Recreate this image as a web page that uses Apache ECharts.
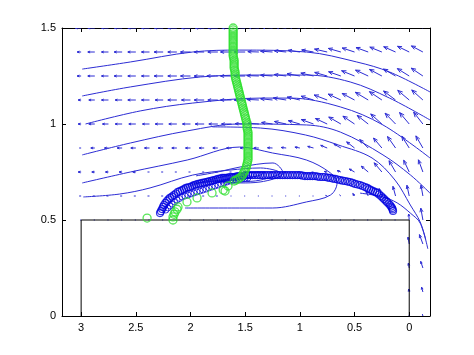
<!DOCTYPE html>
<html><head><meta charset="utf-8">
<script src="https://cdn.jsdelivr.net/npm/echarts@6/dist/echarts.min.js"></script>
<style>html,body{margin:0;padding:0;background:#fff}#c{width:474px;height:355px}</style>
</head><body><div id="c"></div>
<script>
// tick labels
const xTicks = [0, 0.5, 1, 1.5, 2, 2.5, 3];
const yTicks = [0, 0.5, 1, 1.5];

// quiver grid
const qx = [3.0,2.875,2.75,2.625,2.5,2.375,2.25,2.125,2.0,1.875,1.75,1.625,1.5,1.375,1.25,1.125,1.0,0.875,0.75,0.625,0.5,0.375,0.25,0.125,0.0,-0.125];
const qy = [1.5,1.375,1.25,1.125,1.0,0.875,0.75,0.625,0.5];
// speed (relative) per row
const qSpd = [
 [0.6,0.7,0.7,0.8,0.8,0.8,0.9,0.9,0.9,0.9,1.0,1.0,1.0,1.1,1.1,1.1,1.2,1.2,1.2,1.3,1.3,1.3,1.4,1.4,1.4,1.4],
 [0.4,0.7,0.7,0.8,0.8,0.8,0.9,0.9,1.0,1.0,1.0,1.1,1.1,1.1,1.2,1.2,1.2,1.2,1.3,1.3,1.3,1.3,1.3,1.3,1.3,1.3],
 [0.4,0.7,0.7,0.8,0.8,0.8,0.9,0.9,1.0,1.0,1.1,1.1,1.1,1.2,1.2,1.2,1.3,1.3,1.3,1.3,1.4,1.4,1.4,1.4,1.4,1.4],
 [0.3,0.6,0.7,0.7,0.8,0.8,0.8,0.9,0.9,1.0,1.0,1.1,1.1,1.2,1.2,1.3,1.3,1.3,1.4,1.4,1.4,1.5,1.5,1.5,1.5,1.5],
 [0.3,0.6,0.6,0.7,0.7,0.7,0.8,0.8,0.8,0.9,0.9,1.0,1.0,1.1,1.1,1.2,1.2,1.3,1.3,1.4,1.4,1.4,1.5,1.5,1.5,1.5],
 [0.2,0.4,0.4,0.5,0.5,0.5,0.5,0.5,0.5,0.5,0.5,0.5,0.5,0.5,0.5,0.5,0.5,0.6,0.7,0.8,1.0,1.2,1.3,1.4,1.4,1.4],
 [0.3,0.3,0.3,0.3,0.3,0.2,0.2,0.2,0.2,0.2,0.2,0.2,0.2,0.2,0.2,0.2,0.2,0.2,0.3,0.4,0.6,0.9,1.2,1.3,1.3,1.3],
 [0.2,0.2,0.2,0.2,0.2,0.2,0.2,0.2,0.2,0.2,0.2,0.1,0.1,0.1,0.1,0.1,0.1,0.1,0.2,0.2,0.3,0.5,0.8,1.0,1.1,1.1],
 [0.1,0.1,0.1,0.1,0.1,0.1,0.1,0.1,0.1,0.1,0.1,0.1,0.1,0.1,0.1,0.1,0.1,0.1,0.1,0.1,0.1,0.1,0.1,0.1,0.6,1.2]
];
// direction, degrees (0 = toward larger x, 90 = up)
const qAng = [
 [0,0,0,0,0,0,0,0,0,0,0,2,3,4,5,6,8,10,12,14,16,18,20,22,24,26],
 [0,0,0,0,0,0,0,0,0,0,0,0,0,2,4,6,8,10,13,16,18,20,22,24,26,28],
 [0,0,0,0,0,0,0,0,0,0,0,0,0,2,4,7,10,13,16,19,22,25,28,30,32,34],
 [0,0,0,0,0,0,0,0,0,0,0,0,0,3,6,9,13,17,21,25,28,31,34,37,40,42],
 [0,0,0,0,0,0,0,0,0,0,0,0,2,4,8,12,16,20,25,30,34,38,42,46,50,52],
 [0,0,0,0,0,0,0,0,0,0,0,0,0,0,3,6,10,15,22,30,38,45,50,55,58,60],
 [0,0,0,0,0,0,0,0,0,0,0,0,0,0,0,0,0,0,10,20,30,40,50,60,65,70],
 [0,0,0,0,0,0,0,0,0,0,0,0,0,0,0,0,0,0,20,40,55,65,70,75,78,80],
 [0,0,0,0,0,0,0,0,0,0,0,0,0,0,0,0,0,0,0,0,0,0,0,0,85,80]
];
// arrows beside the block
const sideX = [0.0, -0.125];
const sideY = [0.375, 0.25, 0.125, 0.0];
const sideSpd = [[0.7,0.5,0.3,0.1],[1.0,0.7,0.5,0.2]];
const sideAng = [[80,80,80,80],[70,72,75,75]];

// streamlines
const streamA = [[2.99,1.286],[2.55,1.323],[1.98,1.375],[1.55,1.385],[0.94,1.375],[0.48,1.323],[0.18,1.271],[-0.19,1.167]];
const streamB = [[2.99,1.146],[2.55,1.193],[1.91,1.245],[1.36,1.255],[0.94,1.255],[0.54,1.219],[0.18,1.135],[-0.19,1.021]];
const streamC = [[2.96,1.0],[2.46,1.068],[1.98,1.109],[1.36,1.135],[1.09,1.135],[0.63,1.089],[0.24,0.995],[-0.19,0.823]];
const streamD = [[2.99,0.839],[2.55,0.901],[2.03,0.964],[1.55,1.0],[0.94,0.995],[0.63,0.958],[0.24,0.839],[-0.01,0.735],[-0.19,0.64]];
const streamE = [[-0.15,0.40],[-0.10,0.49],[-0.01,0.578],[0.13,0.708],[0.34,0.823],[0.65,0.891],[0.95,0.943],[1.36,0.979],[1.8,0.985]];
const streamF = [[2.99,0.693],[2.55,0.75],[2.03,0.8125],[1.55,0.88],[1.25,0.849],[0.94,0.8125],[0.72,0.745],[0.66,0.693],[0.72,0.63],[0.94,0.594],[1.25,0.5625],[1.55,0.5625],[2.05,0.5625]];
const streamG = [[2.98,0.62],[2.65,0.635],[2.37,0.667],[1.98,0.734],[1.64,0.76],[1.36,0.771],[1.18,0.745],[1.36,0.708],[1.55,0.698],[1.73,0.693]];
const streamH = [[1.95,0.73],[1.75,0.75],[1.547,0.776],[1.246,0.797],[1.153,0.745],[1.364,0.698],[1.547,0.693],[1.75,0.70],[2.0,0.69]];
const streamI = [[2.0,0.68],[1.75,0.72],[1.5,0.745],[1.32,0.75],[1.38,0.73],[1.6,0.715],[1.85,0.70]];
const streamJ = [[-0.17,0.35],[-0.10,0.484],[-0.01,0.536],[0.11,0.589],[0.24,0.62],[0.45,0.64]];
const streams = [streamA,streamB,streamC,streamD,streamE,streamF,streamG,streamH,streamI,streamJ];

// block outline
const block = [[3,0],[3,0.5],[0,0.5],[0,0]];

// blue body trajectory (dense band of circles)
const blueTrack = [[2.279,0.536],[2.270,0.546],[2.260,0.557],[2.251,0.568],[2.242,0.578],[2.229,0.589],[2.215,0.599],[2.201,0.607],[2.187,0.615],[2.169,0.622],[2.151,0.630],[2.133,0.638],[2.114,0.646],[2.096,0.651],[2.077,0.656],[2.059,0.661],[2.041,0.667],[2.023,0.670],[2.004,0.672],[1.986,0.677],[1.968,0.682],[1.950,0.685],[1.931,0.688],[1.913,0.690],[1.895,0.693],[1.877,0.695],[1.858,0.698],[1.840,0.700],[1.821,0.703],[1.803,0.705],[1.785,0.708],[1.767,0.711],[1.748,0.714],[1.730,0.716],[1.711,0.719],[1.693,0.719],[1.675,0.719],[1.657,0.721],[1.639,0.724],[1.620,0.724],[1.602,0.724],[1.584,0.726],[1.565,0.729],[1.547,0.729],[1.529,0.729],[1.510,0.731],[1.492,0.734],[1.474,0.734],[1.456,0.734],[1.433,0.734],[1.410,0.734],[1.387,0.734],[1.364,0.734],[1.341,0.734],[1.318,0.734],[1.295,0.734],[1.273,0.734],[1.250,0.734],[1.227,0.734],[1.204,0.734],[1.181,0.734],[1.158,0.734],[1.136,0.734],[1.113,0.734],[1.090,0.734],[1.067,0.734],[1.044,0.734],[1.021,0.734],[0.998,0.734],[0.975,0.731],[0.953,0.729],[0.930,0.729],[0.907,0.729],[0.884,0.729],[0.861,0.729],[0.838,0.726],[0.816,0.724],[0.793,0.724],[0.770,0.724],[0.747,0.721],[0.724,0.719],[0.701,0.716],[0.678,0.714],[0.655,0.711],[0.633,0.708],[0.610,0.705],[0.587,0.703],[0.564,0.700],[0.541,0.698],[0.518,0.693],[0.495,0.688],[0.472,0.685],[0.450,0.682],[0.427,0.677],[0.404,0.672],[0.385,0.667],[0.367,0.661],[0.349,0.656],[0.331,0.651],[0.312,0.646],[0.294,0.641],[0.276,0.633],[0.258,0.625],[0.244,0.617],[0.230,0.609],[0.216,0.601],[0.203,0.594],[0.189,0.586],[0.176,0.578],[0.166,0.570],[0.157,0.5625],[0.152,0.555],[0.148,0.547]];
const blueTrack2 = [[2.225,0.552],[2.206,0.5625],[2.188,0.573],[2.169,0.583],[2.146,0.594],[2.123,0.604],[2.100,0.612],[2.077,0.620],[2.050,0.625],[2.023,0.630],[1.996,0.636],[1.968,0.641],[1.941,0.646],[1.913,0.651],[1.886,0.656],[1.858,0.661],[1.831,0.667],[1.803,0.672],[1.776,0.677],[1.748,0.682],[1.721,0.688],[1.693,0.693],[1.666,0.698],[1.639,0.703],[1.611,0.706],[1.584,0.708],[1.556,0.711],[1.529,0.714],[1.502,0.716],[1.474,0.719]];

// green body trajectory
const greenTrack = [[1.610,1.5],[1.610,1.490],[1.610,1.479],[1.610,1.469],[1.610,1.458],[1.610,1.448],[1.610,1.4375],[1.610,1.427],[1.610,1.417],[1.610,1.406],[1.610,1.396],[1.610,1.385],[1.610,1.375],[1.610,1.365],[1.610,1.354],[1.606,1.344],[1.601,1.333],[1.601,1.323],[1.601,1.3125],[1.601,1.302],[1.601,1.292],[1.597,1.281],[1.592,1.271],[1.592,1.260],[1.592,1.25],[1.588,1.240],[1.584,1.229],[1.579,1.219],[1.574,1.208],[1.570,1.198],[1.565,1.1875],[1.561,1.177],[1.556,1.167],[1.552,1.156],[1.547,1.146],[1.543,1.135],[1.538,1.125],[1.533,1.115],[1.529,1.104],[1.524,1.094],[1.520,1.083],[1.515,1.073],[1.510,1.0625],[1.506,1.052],[1.501,1.042],[1.497,1.031],[1.492,1.021],[1.488,1.010],[1.483,1.0],[1.483,0.990],[1.483,0.979],[1.479,0.969],[1.474,0.958],[1.474,0.948],[1.474,0.9375],[1.474,0.927],[1.474,0.917],[1.474,0.906],[1.474,0.896],[1.474,0.885],[1.474,0.875],[1.474,0.865],[1.474,0.854],[1.474,0.844],[1.474,0.833],[1.474,0.823],[1.474,0.8125],[1.479,0.802],[1.483,0.792],[1.488,0.781],[1.492,0.771],[1.501,0.760],[1.510,0.75],[1.520,0.740],[1.529,0.729],[1.547,0.721],[1.565,0.714],[1.583,0.708],[1.601,0.703],[1.657,0.677],[1.684,0.651],[1.701,0.656],[1.803,0.641],[1.940,0.615],[2.032,0.594],[2.114,0.568],[2.123,0.556],[2.141,0.542],[2.150,0.53],[2.160,0.516],[2.160,0.5],[2.397,0.510]];

const LINE = '#2c2cd4';
const quiverData = [];
qy.forEach((y, r) => qx.forEach((x, c) => quiverData.push([x, y, qSpd[r][c], qAng[r][c]])));
sideX.forEach((x, i) => sideY.forEach((y, j) => quiverData.push([x, y, sideSpd[i][j], sideAng[i][j]])));

const QX = 0.0915, QY = 0.052;
function renderArrow(params, api) {
  const x = api.value(0), y = api.value(1), s = api.value(2), a = api.value(3) * Math.PI / 180;
  const p0 = api.coord([x, y]);
  const p1 = api.coord([x + s * Math.cos(a) * QX, y + s * Math.sin(a) * QY]);
  const dx = p1[0] - p0[0], dy = p1[1] - p0[1];
  const L = Math.hypot(dx, dy);
  const style = { stroke: LINE, lineWidth: 1, fill: null };
  const children = [{ type: 'polyline', shape: { points: [p0, p1] }, style }];
  if (L > 2.5) {
    const ux = dx / L, uy = dy / L, h = Math.max(2.5, 0.35 * L), w = 0.38;
    const c = Math.cos(w), sn = Math.sin(w);
    const h1 = [p1[0] - h * (ux * c - uy * sn), p1[1] - h * (uy * c + ux * sn)];
    const h2 = [p1[0] - h * (ux * c + uy * sn), p1[1] - h * (uy * c - ux * sn)];
    children.push({ type: 'polyline', shape: { points: [h1, p1, h2] }, style });
  }
  return { type: 'group', children };
}

const series = [];
series.push({ type: 'custom', renderItem: renderArrow, data: quiverData, clip: true, z: 2, silent: true });
streams.forEach(s => series.push({ type: 'line', data: s, smooth: 0.35, showSymbol: false, clip: true,
  lineStyle: { color: LINE, width: 1 }, z: 2, silent: true }));
series.push({ type: 'line', data: block, showSymbol: false, lineStyle: { color: '#000', width: 1 }, z: 3, silent: true });
series.push({ type: 'scatter', data: blueTrack2, symbol: 'circle', symbolSize: 6,
  itemStyle: { color: 'rgba(0,0,0,0)', borderColor: '#1010e0', borderWidth: 1 }, z: 4, silent: true });
series.push({ type: 'scatter', data: blueTrack, symbol: 'circle', symbolSize: 7,
  itemStyle: { color: 'rgba(0,0,0,0)', borderColor: '#0000e0', borderWidth: 1.2 }, z: 4, silent: true });
series.push({ type: 'scatter', data: greenTrack, symbol: 'circle', symbolSize: 8,
  itemStyle: { color: 'rgba(0,0,0,0)', borderColor: '#2ee02e', borderWidth: 1.3 }, z: 5, silent: true });

const axisCommon = {
  type: 'value', splitLine: { show: false },
  axisLine: { show: true, onZero: false, lineStyle: { color: '#000', width: 1 } },
  axisTick: { show: true, inside: true, length: 4, lineStyle: { color: '#000' } }
};
const labelStyle = { color: '#000', fontSize: 11, fontFamily: 'Liberation Sans, Arial, sans-serif' };

const option = {
  animation: false,
  backgroundColor: '#fff',
  grid: { left: 62, top: 28, width: 368, height: 288, containLabel: false },
  xAxis: [
    Object.assign({}, axisCommon, { position: 'bottom', inverse: true, min: -0.19, max: 3.175,
      axisTick: Object.assign({}, axisCommon.axisTick, { customValues: xTicks }),
      axisLabel: Object.assign({ customValues: xTicks, margin: 6 }, labelStyle) }),
    Object.assign({}, axisCommon, { position: 'top', inverse: true, min: -0.19, max: 3.175,
      axisTick: Object.assign({}, axisCommon.axisTick, { customValues: xTicks }),
      axisLabel: { show: false } })
  ],
  yAxis: [
    Object.assign({}, axisCommon, { position: 'left', min: 0, max: 1.5,
      axisTick: Object.assign({}, axisCommon.axisTick, { customValues: yTicks }),
      axisLabel: Object.assign({ customValues: yTicks, margin: 6 }, labelStyle) }),
    Object.assign({}, axisCommon, { position: 'right', min: 0, max: 1.5,
      axisTick: Object.assign({}, axisCommon.axisTick, { customValues: yTicks }),
      axisLabel: { show: false } })
  ],
  series
};
const chart = echarts.init(document.getElementById('c'), null, { renderer: 'canvas' });
chart.setOption(option);
</script></body></html>
